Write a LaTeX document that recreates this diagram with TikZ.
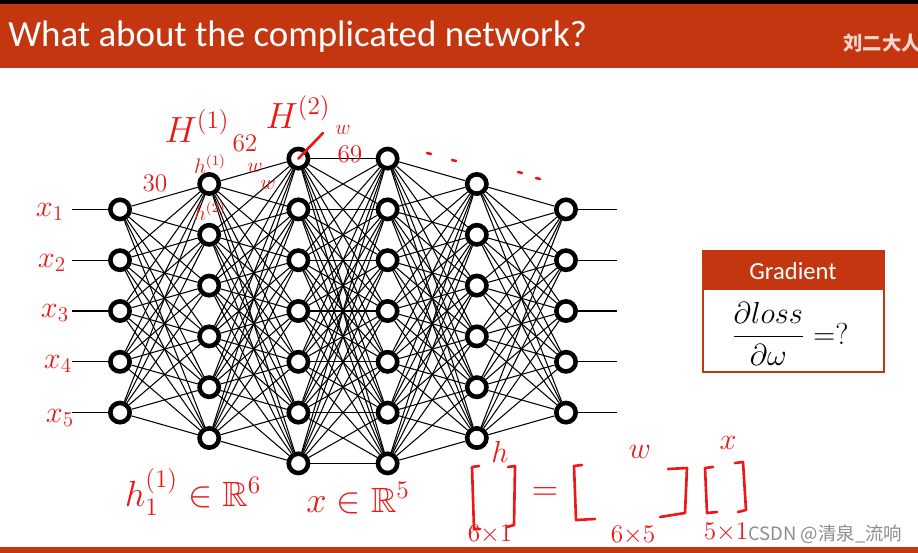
\documentclass[tikz,border=0pt]{standalone}
\usepackage{amssymb}
\usepackage{fontspec}
\setsansfont{Carlito}
\newfontfamily\cjk{Noto Sans CJK SC}
\definecolor{slidered}{RGB}{196,54,16}
\definecolor{inkred}{RGB}{236,24,24}
\tikzset{
  neuron/.style={circle, draw=black, line width=2.6pt, fill=white, inner sep=0pt, minimum size=11pt},
  synapse/.style={black, line width=0.6pt},
  ink/.style={text=inkred, inner sep=0pt, font=\fontsize{18}{18}\selectfont},
  inkline/.style={inkred, line width=1.5pt, line cap=round, line join=round}
}
\begin{document}
\begin{tikzpicture}[x=0.02cm, y=-0.02cm]
    \useasboundingbox (0,0) rectangle (918,553);
    % Title bar
    \fill[black] (0,0) rectangle (918,4);
    \fill[slidered] (0,4) rectangle (918,68);
    \fill[slidered] (0,547) rectangle (918,553);
    \node[anchor=base west, text=white, inner sep=0pt, font=\sffamily\fontsize{21}{21}\selectfont] (title) at (8,47) {What about the complicated network?};
    \node[anchor=base west, text=slidered!20, inner sep=0pt, font=\cjk\bfseries\fontsize{11}{11}\selectfont] (author) at (843,51) {刘二大人};

    % Neurons, layer by layer
    \foreach \l/\n in {1/5,2/6,3/7,4/7,5/6,6/5}
      \foreach \i in {1,...,\n}
        \node[neuron] (n\l-\i) at ({120+89.2*(\l-1)}, {311+50.8*(\i-(\n+1)/2)}) {};

    % Full connections
    \foreach \l/\n/\m in {1/5/6,2/6/7,3/7/7,4/7/6,5/6/5} {
      \pgfmathtruncatemacro\k{\l+1}
      \foreach \i in {1,...,\n}
        \foreach \j in {1,...,\m}
          \draw[synapse] (n\l-\i) -- (n\k-\j);
    }

    % Inputs and outputs
    \foreach \i in {1,...,5} {
      \coordinate (in\i) at (72, {311+50.8*(\i-3)});
      \coordinate (out\i) at (617, {311+50.8*(\i-3)});
      \draw[synapse] (in\i) -- (n1-\i);
      \draw[synapse] (n6-\i) -- (out\i);
    }

    % Handwritten notes
    \foreach \i/\dx/\dy in {1/50/212,2/52/263,3/55/313,4/58/364,5/60/418}
      \node[ink] (lx\i) at (\dx,\dy) {$x_{\i}$};
    \node[ink, font=\fontsize{15}{15}\selectfont] (thirty) at (155,183) {$30$};
    \node[ink, font=\fontsize{22}{22}\selectfont] (H1) at (197,126) {$H^{(1)}$};
    \node[ink, font=\fontsize{12}{12}\selectfont] (h11) at (210,164) {$h^{(1)}$};
    \node[ink, font=\fontsize{12}{12}\selectfont] (h12) at (210,211) {$h^{(2)}$};
    \node[ink, font=\fontsize{15}{15}\selectfont] (w62) at (245,143) {$62$};
    \node[ink, font=\fontsize{12}{12}\selectfont] (wa) at (255,168) {$w$};
    \node[ink, font=\fontsize{12}{12}\selectfont] (wb) at (268,185) {$w$};
    \node[ink, font=\fontsize{22}{22}\selectfont] (H2) at (298,112) {$H^{(2)}$};
    \coordinate (wtip) at (323,133);
    \draw[inkline] (n3-1.center) -- (wtip);
    \node[ink, font=\fontsize{13}{13}\selectfont] (wc) at (343,130) {$w$};
    \node[ink, font=\fontsize{15}{15}\selectfont] (w69) at (350,154) {$69$};
    \foreach \a/\b in {429/153,454/160,520/172,538/178}
      \draw[inkline] (\a-2,\b) -- (\a+2,\b+1);
    \node[ink, font=\fontsize{20}{20}\selectfont] (hspace) at (193,492) {$h_1^{(1)}\in\mathbb{R}^6$};
    \node[ink, font=\fontsize{20}{20}\selectfont] (xspace) at (358,498) {$x\in\mathbb{R}^5$};

    % h = W x
    \draw[inkline] (479,466) -- (472,467) -- (474,529) -- (480,529);
    \draw[inkline] (508,467) -- (515,466) -- (514,525) -- (507,527);
    \draw[inkline] (582,465) -- (574,466) -- (576,520) -- (595,519);
    \draw[inkline] (668,469) -- (687,468) -- (685,513) -- (660,517);
    \draw[inkline] (713,467) -- (705,468) -- (707,513) -- (717,512);
    \draw[inkline] (735,463) -- (743,462) -- (746,510) -- (738,512);
    \node[ink, font=\fontsize{16}{16}\selectfont] (hvec) at (500,452) {$h$};
    \node[ink, font=\fontsize{22}{22}\selectfont] (eq) at (545,494) {$=$};
    \node[ink, font=\fontsize{16}{16}\selectfont] (wmat) at (640,452) {$w$};
    \node[ink, font=\fontsize{16}{16}\selectfont] (xvec) at (728,443) {$x$};
    \node[ink, font=\fontsize{15}{15}\selectfont] (dimh) at (490,534) {$6{\times}1$};
    \node[ink, font=\fontsize{15}{15}\selectfont] (dimw) at (633,535) {$6{\times}5$};
    \node[ink, font=\fontsize{14}{14}\selectfont] (dimx) at (726,532) {$5{\times}1$};

    % Gradient box
    \fill[slidered] (703,251) rectangle (884,290);
    \draw[slidered, line width=1.2pt] (703,251) rectangle (884,372);
    \node[text=white, font=\sffamily\fontsize{14}{14}\selectfont] (gradtitle) at (793,271) {Gradient};
    \node[font=\fontsize{17}{17}\selectfont] (gradeq) at (790,334) {$\displaystyle\frac{\partial loss}{\partial\omega}=?$};

    % Watermark
    \node[anchor=west, text=black!45, inner sep=0pt, font=\cjk\fontsize{10.5}{10.5}\selectfont] (mark) at (748,534) {CSDN @清泉\_流响};
\end{tikzpicture}
\end{document}
